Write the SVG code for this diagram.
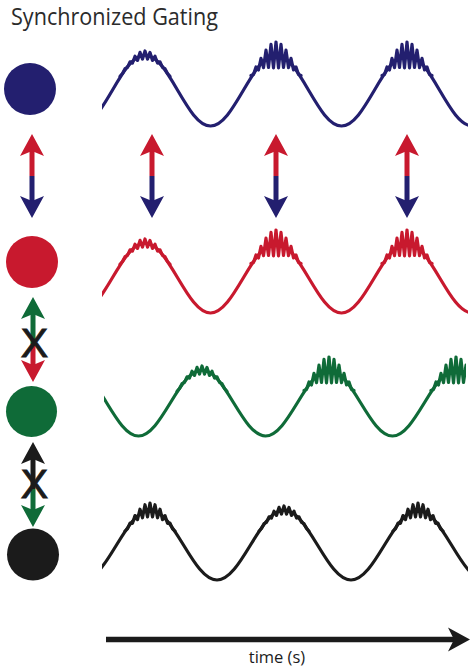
<svg xmlns="http://www.w3.org/2000/svg" xmlns:xlink="http://www.w3.org/1999/xlink" width="474" height="669" viewBox="0 0 474 669">
<style>
.w{fill:none;stroke-width:3.2;stroke-linejoin:round;stroke-linecap:round}
.blue{stroke:#231f6f;fill:#231f6f}
.red{stroke:#c8192e;fill:#c8192e}
.green{stroke:#0f6b38;fill:#0f6b38}
.black{stroke:#1b1b1b;fill:#1b1b1b}
.fb{fill:#231f6f}.fr{fill:#c8192e}.fg{fill:#0f6b38}.fk{fill:#1b1b1b}
.title{font-family:"Open Sans","Liberation Sans",sans-serif;font-size:23px;fill:#2b2b2b}
.lbl{font-family:"Open Sans","Liberation Sans",sans-serif;font-size:16.5px;fill:#1b1b1b}
.x{font-family:"Liberation Sans",Arial,sans-serif;font-size:41px;fill:#1b1b1b;stroke:#1b1b1b;stroke-width:1}
</style>
<defs>
<polyline id="rL" class="w" points="-25,20.6 -22.5,19.6 -20,12 -17.5,15 -15,3.3 -12.5,12.7 -10,-4.8 -7.5,12.5 -5,-10.7 -2.5,12.9 0,-13 2.5,12.9 5,-10.7 7.5,12.5 10,-4.8 12.5,12.7 15,3.3 17.5,15 20,12 22.5,19.6 25,20.6"/>
<polyline id="rM" class="w" points="-25,21.1 -22.5,18.9 -20,13.2 -17.5,13.3 -15,5.6 -12.5,9.6 -10,-0.8 -7.5,7.8 -5,-5.3 -2.5,7 0,-7 2.5,7 5,-5.3 7.5,7.8 10,-0.8 12.5,9.6 15,5.6 17.5,13.3 20,13.2 22.5,18.9 25,21.1"/>
<polyline id="rS" class="w" points="-25,21.3 -22.5,18.5 -20,13.7 -17.5,12.4 -15,6.8 -12.5,8 -10,1.2 -7.5,5.4 -5,-2.6 -2.5,4.1 0,-4 2.5,4.1 5,-2.6 7.5,5.4 10,1.2 12.5,8 15,6.8 17.5,12.4 20,13.7 22.5,18.5 25,21.3"/>
<path id="hu" d="M0,0 L12,22 L0,17 L-12,22 Z"/>
<path id="hd" d="M0,0 L12,-22 L0,-17 L-12,-22 Z"/>
<clipPath id="cw"><rect x="102" y="0" width="366" height="669"/></clipPath>
<clipPath id="cg"><rect x="104" y="0" width="362" height="669"/></clipPath>
</defs>

<text class="title" x="11" y="25" textLength="207" lengthAdjust="spacingAndGlyphs">Synchronized Gating</text>

<g id="node-blue"><circle class="fb" cx="30" cy="89" r="26"/></g>
<g id="node-red"><circle class="fr" cx="32" cy="262" r="26"/></g>
<g id="node-green"><circle class="fg" cx="31.5" cy="411.5" r="25.5"/></g>
<g id="node-black"><circle class="fk" cx="33" cy="554.5" r="26"/></g>

<g id="wave-blue" class="blue" clip-path="url(#cw)">
<path class="w" d="M79.5,126 C103.36,126 121.14,55 145,55 S186.64,126 210.5,126 S252.14,55 276,55 S317.64,126 341.5,126 S383.14,55 407,55 S448.64,126 472.5,126"/>
<use xlink:href="#rS" transform="translate(145,55)"/>
<use xlink:href="#rL" transform="translate(276,55)"/>
<use xlink:href="#rL" transform="translate(407,55)"/>
</g>
<g id="wave-red" class="red" clip-path="url(#cw)">
<path class="w" d="M79.5,313 C103.36,313 121.14,243 145,243 S186.64,313 210.5,313 S252.14,243 276,243 S317.64,313 341.5,313 S383.14,243 407,243 S448.64,313 472.5,313"/>
<use xlink:href="#rS" transform="translate(145,243)"/>
<use xlink:href="#rL" transform="translate(276,243)"/>
<use xlink:href="#rL" transform="translate(407,243)"/>
</g>
<g id="wave-green" class="green" clip-path="url(#cg)">
<path class="w" d="M75,370 C98.13,370 115.37,436 138.5,436 S178.87,370 202,370 S242.37,436 265.5,436 S305.87,370 329,370 S369.37,436 392.5,436 S432.87,370 456,370 S496.37,436 519.5,436"/>
<use xlink:href="#rS" transform="translate(202,370)"/>
<use xlink:href="#rL" transform="translate(329,370)"/>
<use xlink:href="#rL" transform="translate(456,370)"/>
</g>
<g id="wave-black" class="black" clip-path="url(#cw)">
<path class="w" d="M83,580 C107.4,580 125.6,510 150,510 S192.6,580 217,580 S259.6,510 284,510 S326.6,580 351,580 S393.6,510 418,510 S460.6,580 485,580"/>
<use xlink:href="#rM" transform="translate(150,510)"/>
<use xlink:href="#rS" transform="translate(284,510)"/>
<use xlink:href="#rM" transform="translate(418,510)"/>
</g>

<g id="connectors">
<g transform="translate(32,0)">
<rect class="fr" x="-2.5" y="150" width="5" height="26"/><rect class="fb" x="-2.5" y="176" width="5" height="27"/>
<use class="fr" xlink:href="#hu" transform="translate(0,134)"/><use class="fb" xlink:href="#hd" transform="translate(0,218)"/>
</g>
<g transform="translate(152,0)">
<rect class="fr" x="-2.5" y="150" width="5" height="26"/><rect class="fb" x="-2.5" y="176" width="5" height="27"/>
<use class="fr" xlink:href="#hu" transform="translate(0,134)"/><use class="fb" xlink:href="#hd" transform="translate(0,218)"/>
</g>
<g transform="translate(276,0)">
<rect class="fr" x="-2.5" y="150" width="5" height="26"/><rect class="fb" x="-2.5" y="176" width="5" height="27"/>
<use class="fr" xlink:href="#hu" transform="translate(0,134)"/><use class="fb" xlink:href="#hd" transform="translate(0,218)"/>
</g>
<g transform="translate(407,0)">
<rect class="fr" x="-2.5" y="150" width="5" height="26"/><rect class="fb" x="-2.5" y="176" width="5" height="27"/>
<use class="fr" xlink:href="#hu" transform="translate(0,134)"/><use class="fb" xlink:href="#hd" transform="translate(0,218)"/>
</g>
<g transform="translate(33,0)">
<rect class="fg" x="-2.5" y="313" width="5" height="31"/><rect class="fr" x="-2.5" y="344" width="5" height="23"/>
<use class="fg" xlink:href="#hu" transform="translate(0,297)"/><use class="fr" xlink:href="#hd" transform="translate(0,382)"/>
<text class="x" x="1.5" y="357" text-anchor="middle">X</text>
</g>
<g transform="translate(33,0)">
<rect class="fk" x="-2.5" y="458" width="5" height="31"/><rect class="fg" x="-2.5" y="489" width="5" height="22"/>
<use class="fk" xlink:href="#hu" transform="translate(0,442)"/><use class="fg" xlink:href="#hd" transform="translate(0,527)"/>
<text class="x" x="1.5" y="498" text-anchor="middle">X</text>
</g>
<g id="time-axis">
<line x1="106" y1="639.5" x2="456" y2="639.5" stroke="#1b1b1b" stroke-width="5.5"/>
<path class="fk" d="M470,639.5 L448,627.5 L454,639.5 L448,651.5 Z"/>
</g>
</g>
<text class="lbl" x="277" y="663" text-anchor="middle">time (s)</text>
</svg>
